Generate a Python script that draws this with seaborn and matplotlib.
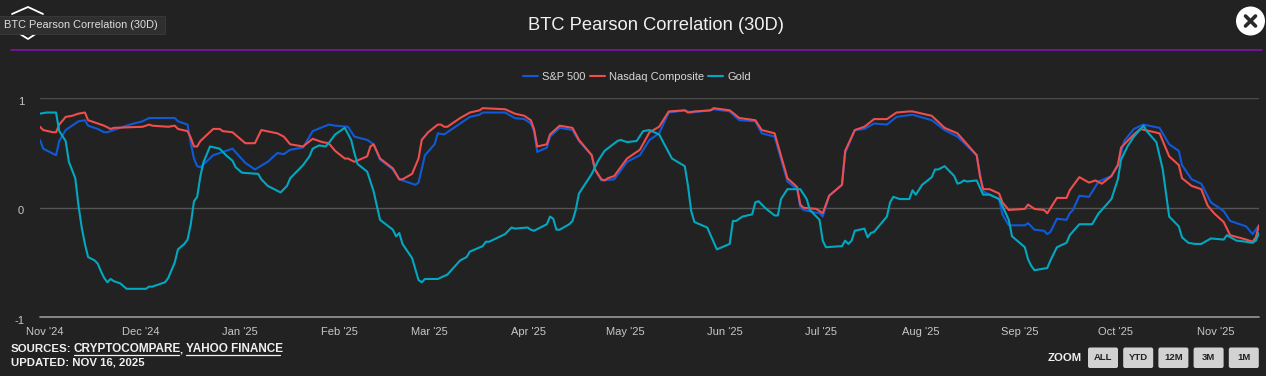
# BTC Pearson correlation chart
import pandas as pd
import matplotlib.pyplot as plt
import matplotlib.transforms as mtrans
from matplotlib.patches import Circle, FancyBboxPatch, Rectangle
import seaborn as sns

# days counted from 1 Nov 2024
start_date = '2024-11-01'

sp500_days = [0, 1, 3, 5, 6, 8, 12, 14, 15, 18, 20, 21, 23, 28, 32, 34, 42, 43, 46, 47, 48, 49, 50, 54, 60, 64, 67, 71, 74, 76, 78, 82, 85, 90,
              92, 96, 98, 102, 104, 106, 110, 112, 117, 118, 120, 123, 124, 126, 131, 134, 137, 138, 145, 148, 151, 153, 154, 155, 158, 159, 162, 166, 168, 172, 173, 175, 179, 183, 187, 190, 193,
              196, 201, 203, 209, 210, 215, 218, 223, 225, 229, 233, 236, 237, 238, 243, 244, 246, 250, 251, 254, 257, 260, 264, 267, 272, 278, 282, 286, 292, 294,
              299, 300, 302, 307, 308, 310, 313, 314, 315, 317, 320, 321, 322, 324, 327, 330, 334, 336, 338, 341, 344, 349, 352, 355, 356, 359, 362, 365, 369, 371, 376, 378, 380]
sp500_vals = [.62, .54, .51, .48, .61, .71, .79, .80, .75, .72, .69, .69, .71, .76, .79, .82, .82, .79, .76, .59, .45, .38, .37, .48, .54, .41, .35, .42, .50, .49, .53, .55, .70, .76,
              .75, .74, .65, .62, .58, .44, .35, .26, .21, .23, .48, .58, .68, .67, .77, .83, .85, .87, .87, .82, .81, .77, .70, .51, .55, .65, .73, .71, .61, .48, .35, .25, .26, .42, .48, .62, .68,
              .87, .89, .87, .89, .90, .88, .80, .79, .68, .65, .24, .17, .01, -.02, -.05, -.08, .11, .21, .50, .71, .72, .77, .76, .83, .85, .80, .71, .65, .48, .15,
              .08, -.06, -.16, -.16, -.14, -.20, -.21, -.24, -.22, -.10, -.11, -.05, -.02, .11, .10, .24, .29, .39, .61, .72, .76, .73, .58, .52, .39, .26, .22, .05, -.03, -.12, -.17, -.24, -.16]

nasdaq_days = [0, 1, 4, 5, 6, 8, 10, 12, 14, 15, 20, 22, 23, 32, 34, 35, 40, 42, 43, 46, 47, 48, 49, 50, 54, 56, 57, 60, 64, 67, 69, 74, 76, 78, 82, 85, 88, 90,
               92, 95, 96, 98, 102, 103, 104, 106, 110, 112, 113, 116, 118, 119, 121, 124, 125, 126, 127, 131, 134, 137, 138, 145, 148, 151, 153, 154, 155, 158, 159, 162, 166, 168, 172, 173, 175, 176, 177, 179, 183, 187, 190, 193,
               196, 201, 202, 204, 209, 210, 215, 218, 223, 225, 229, 233, 236, 237, 238, 242, 244, 246, 250, 251, 254, 257, 260, 264, 267, 271, 272, 278, 282, 286, 292,
               293, 294, 296, 299, 300, 302, 307, 308, 310, 313, 314, 317, 320, 321, 324, 327, 329, 331, 334, 336, 337, 341, 343, 349, 350, 352, 355, 356, 359, 362, 364, 366, 369, 371, 376, 378, 379, 380]
nasdaq_vals = [.74, .71, .69, .69, .76, .83, .84, .86, .87, .80, .75, .72, .73, .74, .76, .75, .74, .75, .72, .70, .64, .56, .56, .61, .72, .72, .70, .69, .59, .59, .71, .68, .65, .58, .56, .63, .60, .59,
               .52, .45, .45, .42, .47, .56, .58, .45, .36, .26, .26, .31, .45, .62, .69, .76, .76, .74, .74, .82, .87, .89, .91, .90, .86, .84, .80, .72, .56, .58, .67, .75, .73, .62, .48, .35, .26, .25, .27, .29, .45, .53, .69, .74,
               .88, .89, .87, .88, .89, .91, .89, .82, .80, .71, .68, .27, .19, .03, 0, -.01, -.05, .11, .21, .52, .71, .74, .81, .81, .87, .88, .88, .84, .73, .68, .48,
               .29, .17, .17, .13, .05, -.02, -.01, .03, -.01, -.02, -.05, .09, .09, .16, .28, .23, .25, .22, .29, .39, .55, .67, .72, .68, .61, .47, .39, .27, .20, .17, .02, -.05, -.13, -.25, -.29, -.31, -.27, -.16]

gold_days = [0, 2, 5, 6, 8, 9, 11, 12, 13, 14, 15, 17, 18, 19, 20, 21, 22, 23, 25, 27, 33, 34, 35, 39, 40, 42, 43, 45, 46, 47, 48, 49, 50, 51, 53, 56, 58, 60, 61, 63, 68, 69, 71, 75, 77, 78, 82, 84, 85, 87, 89, 90,
             92, 95, 97, 98, 99, 102, 104, 106, 110, 111, 112, 113, 116, 118, 119, 120, 124, 127, 131, 133, 134, 138, 139, 140, 145, 147, 148, 152, 153, 154, 158, 159, 160, 161, 162, 165, 166, 167, 168, 172, 174, 176, 180, 181, 183, 186, 188, 190, 193,
             197, 201, 202, 203, 204, 208, 211, 215, 216, 217, 219, 222, 223, 224, 226, 229, 230, 231, 233, 237, 239, 240, 243, 244, 245, 250, 251, 252, 253, 254, 257, 258, 259, 260, 264, 265, 266, 268, 271, 272, 273, 275, 278, 279, 280, 282, 285, 286, 287, 288, 289, 292, 294,
             296, 299, 302, 303, 307, 308, 309, 310, 314, 315, 317, 320, 321, 324, 328, 330, 331, 334, 336, 337, 339, 341, 344, 345, 348, 350, 352, 355, 356, 358, 360, 362, 365, 369, 370, 373, 376, 378, 379, 380]
gold_vals = [.86, .87, .87, .70, .61, .42, .27, .02, -.18, -.33, -.45, -.48, -.51, -.58, -.64, -.68, -.65, -.67, -.69, -.74, -.74, -.72, -.72, -.68, -.64, -.50, -.38, -.33, -.29, -.15, .06, .10, .29, .42, .56, .54, .48, .43, .37, .32, .31, .26, .20, .14, .20, .27, .39, .47, .54, .57, .56, .59,
             .67, .73, .62, .50, .40, .33, .15, -.11, -.20, -.26, -.23, -.33, -.46, -.66, -.68, -.65, -.65, -.61, -.48, -.45, -.40, -.35, -.31, -.31, -.24, -.18, -.19, -.18, -.20, -.21, -.15, -.08, -.10, -.20, -.20, -.15, -.12, -.02, .13, .31, .43, .52, .61, .62, .60, .61, .70, .71, .67,
             .45, .38, .20, -.03, -.13, -.18, -.38, -.33, -.12, -.12, -.08, -.06, .05, .06, 0, -.07, -.07, .08, .17, .17, .08, -.02, -.11, -.30, -.36, -.35, -.30, -.33, -.30, -.21, -.19, -.27, -.23, -.22, -.08, .05, .10, .08, .08, .16, .12, .21, .28, .35, .35, .38, .29, .22, .23, .25, .24, .25, .12,
             .12, .08, -.11, -.26, -.36, -.47, -.53, -.57, -.55, -.48, -.36, -.32, -.25, -.15, -.15, -.05, -.02, .08, .26, .44, .56, .65, .75, .70, .60, .35, -.08, -.17, -.27, -.32, -.33, -.33, -.28, -.29, -.25, -.30, -.31, -.32, -.30, -.23]

series_names = ['S&P 500', 'Nasdaq Composite', 'Gold']
series_colors = ['#0f5ad6', '#f04d4d', '#03a8c0']
month_starts = pd.date_range('2024-11-01', '2025-11-01', freq='MS')
month_labels = [d.strftime("%b '%y") for d in month_starts]
zoom_buttons = ['ALL', 'YTD', '12M', '3M', '1M']

W, H = 1266, 376
BG = '#222222'


def make_frame(name, days, vals):
    return pd.DataFrame({
        'date': pd.Timestamp(start_date) + pd.to_timedelta(days, unit='D'),
        'corr': vals,
        'series': name,
    })


data = pd.concat([
    make_frame(series_names[0], sp500_days, sp500_vals),
    make_frame(series_names[1], nasdaq_days, nasdaq_vals),
    make_frame(series_names[2], gold_days, gold_vals),
])

sns.set_theme(style='dark', rc={'figure.facecolor': BG, 'axes.facecolor': BG, 'savefig.facecolor': BG})
plt.rcParams['font.family'] = ['Liberation Sans', 'DejaVu Sans']

fig = plt.figure(figsize=(W / 100, H / 100), dpi=100)
ax = fig.add_axes([40 / W, (H - 317.3) / H, 1219 / W, 219 / H])

sns.lineplot(data=data, x='date', y='corr', hue='series', hue_order=series_names, palette=series_colors,
             estimator=None, sort=False, linewidth=1.5, ax=ax, zorder=3)

ax.set_xlim(pd.Timestamp(start_date), pd.Timestamp('2025-11-16'))
ax.set_ylim(-1, 1)
ax.set_xlabel('')
ax.set_ylabel('')
ax.set_yticks([-1, 0, 1], labels=['-1', '0', '1'])
ax.set_xticks(month_starts, labels=month_labels)
ax.tick_params(axis='x', length=0, pad=7, labelsize=8, labelcolor='#c8c8c8')
ax.tick_params(axis='y', length=0, pad=11.5, labelsize=8, labelcolor='#c8c8c8')
# labels in the original sit a little right of / below their ticks
for label in ax.get_xticklabels():
    label.set_transform(label.get_transform() + mtrans.ScaledTranslation(4.5 / 100, 0, fig.dpi_scale_trans))
for label in ax.get_yticklabels():
    label.set_transform(label.get_transform() + mtrans.ScaledTranslation(0, -2.5 / 100, fig.dpi_scale_trans))

for side in ax.spines:
    ax.spines[side].set_visible(False)
ax.axhline(1, color='#4c4c4c', lw=1, zorder=1)
ax.axhline(0, color='#555555', lw=1, zorder=1)
ax.axhline(-1, color='#9a9a9a', lw=1.2, zorder=1, clip_on=False)

# legend sits on top in one row
handles, labels = ax.get_legend_handles_labels()
ax.legend(handles, labels, ncol=3, frameon=False, loc='center', bbox_to_anchor=(637 / W, (H - 77) / H),
          bbox_transform=fig.transFigure, fontsize=8, labelcolor='#d8d8d8', handlelength=1.35,
          handletextpad=0.4, columnspacing=0.35, borderpad=0)

# page furniture, drawn on an overlay in pixel coordinates
over = fig.add_axes([0, 0, 1, 1], facecolor='none')
over.set_xlim(0, W)
over.set_ylim(H, 0)
over.axis('off')

over.text(656, 26, 'BTC Pearson Correlation (30D)', color='#f0f0f0', fontsize=13.2, ha='center', va='center')
over.plot([11, 1262], [50, 50], color='#7a12a0', lw=1.3)

# logo chevrons behind the tooltip
over.plot([12, 28, 43], [14, 7, 14], color='white', lw=1.3)
over.plot([12, 28, 43], [29, 39, 29], color='white', lw=1.3)
over.add_patch(Rectangle((-2, 16), 167, 18, facecolor='#2f2f2f', edgecolor='#3a3a3a', lw=0.6, zorder=4))
over.text(4, 25.5, 'BTC Pearson Correlation (30D)', color='#dedede', fontsize=7.9, va='center', zorder=5)

# close button
over.add_patch(Circle((1250.5, 21), 14.5, facecolor='white', edgecolor='none'))
over.plot([1245.5, 1255.5], [16, 26], color='#2a2a2a', lw=2.6, solid_capstyle='round')
over.plot([1245.5, 1255.5], [26, 16], color='#2a2a2a', lw=2.6, solid_capstyle='round')

# sources block with underlined links
over.text(11, 349.5, 'SOURCES:', color='#f0f0f0', fontsize=8.2, fontweight='bold', va='center')
over.text(74, 349.5, 'CRYPTOCOMPARE', color='#f0f0f0', fontsize=8.5, fontweight='bold', va='center')
over.text(179.5, 349.5, ',', color='#f0f0f0', fontsize=8.2, fontweight='bold', va='center')
over.text(185.5, 349.5, 'YAHOO FINANCE', color='#f0f0f0', fontsize=8.5, fontweight='bold', va='center')
over.plot([74, 179], [354.5, 354.5], color='#f0f0f0', lw=0.9)
over.plot([185.5, 280], [354.5, 354.5], color='#f0f0f0', lw=0.9)
over.text(11, 362.5, 'UPDATED: NOV 16, 2025', color='#f0f0f0', fontsize=8.2, fontweight='bold', va='center')

# zoom buttons
over.text(1082, 358, 'ZOOM', color='#f0f0f0', fontsize=8.2, fontweight='bold', va='center', ha='right')
for i, name in enumerate(zoom_buttons):
    x0 = 1088 + i * 35.2
    over.add_patch(FancyBboxPatch((x0, 347.5), 30, 20.5, boxstyle='round,pad=0,rounding_size=2',
                                  facecolor='#d2d2d2', edgecolor='none'))
    over.text(x0 + 15, 358, name, color='#222222', fontsize=6.8, fontweight='bold', ha='center', va='center')

plt.savefig('out.png', dpi=100)
